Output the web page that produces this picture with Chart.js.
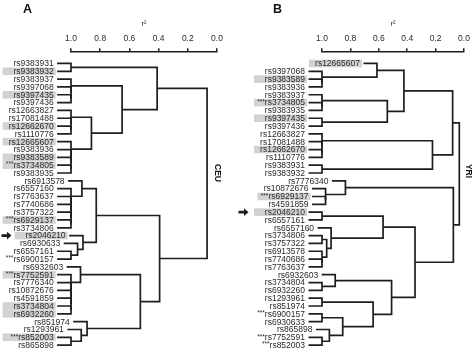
<!DOCTYPE html>
<html>
<head>
<meta charset="utf-8">
<script src="https://cdn.jsdelivr.net/npm/chart.js@4.4.1/dist/chart.umd.min.js"></script>
<style>
  html, body { margin: 0; padding: 0; background: #fff; }
  #wrap { position: relative; width: 474px; height: 350px; }
  .panel { position: absolute; top: 0; width: 237px; height: 350px; }
  #panelA { left: 0; }
  #panelB { left: 237px; }
</style>
</head>
<body>
<div id="wrap">
  <div class="panel" id="panelA"><canvas id="chartA" width="237" height="350"></canvas></div>
  <div class="panel" id="panelB"><canvas id="chartB" width="237" height="350"></canvas></div>
</div>
<script>
const FONT = "'Liberation Sans', Arial, sans-serif";
const INK = "#1e1e1e";

// r2 axis ticks
const rTicks = [1.0, 0.8, 0.6, 0.4, 0.2, 0.0];
// how far a leaf stub hangs past its merge (r2 units)
const leafHang = 0.095;

// snps marked with *** in both panels
const starred = ["rs3734805", "rs6929137", "rs6900157", "rs7752591", "rs852003"];
const arrowSnp = "rs2046210";

// panel A (CEU) leaf order, top to bottom
const leavesA = [
  "rs9383931", "rs9383932", "rs9383937", "rs9397068", "rs9397435", "rs9397436",
  "rs12663827", "rs17081488", "rs12662670", "rs1110776", "rs12665607", "rs9383936",
  "rs9383589", "rs3734805", "rs9383935", "rs6913578", "rs6557160", "rs7763637",
  "rs7740686", "rs3757322", "rs6929137", "rs3734806", "rs2046210", "rs6930633",
  "rs6557161", "rs6900157", "rs6932603", "rs7752591", "rs7776340", "rs10872676",
  "rs4591859", "rs3734804", "rs6932260", "rs851974", "rs1293961", "rs852003", "rs865898"
];
const boxedA = ["rs9383932", "rs9397435", "rs12662670", "rs12665607", "rs9383589", "rs3734805",
  "rs6929137", "rs2046210", "rs7752591", "rs3734804", "rs6932260", "rs852003"];

// merges: [child, child, r2]; numbers are leaves, "m#" is an earlier merge
const mergesA = [
  [0, 1, 1.0],          // m0
  [4, 5, 1.0],          // m1
  [3, "m1", 1.0],       // m2
  [2, "m2", 1.0],       // m3
  [8, 9, 1.0],          // m4
  [7, "m4", 1.0],       // m5
  [6, "m5", 1.0],       // m6
  [13, 14, 1.0],        // m7
  [12, "m7", 1.0],      // m8
  [11, "m8", 1.0],      // m9
  [10, "m9", 1.0],      // m10
  ["m6", "m10", 0.86],  // m11
  ["m3", "m11", 0.65],  // m12
  ["m0", "m12", 0.41],  // m13
  [20, 21, 1.0],        // m14
  [19, "m14", 1.0],     // m15
  [18, "m15", 1.0],     // m16
  [17, "m16", 1.0],     // m17
  [16, "m17", 1.0],     // m18
  [15, "m18", 0.925],   // m19
  [24, 25, 1.0],        // m20
  [23, "m20", 0.955],   // m21
  [22, "m21", 0.918],   // m22
  ["m19", "m22", 0.827],// m23
  [31, 32, 1.0],        // m24
  [30, "m24", 1.0],     // m25
  [29, "m25", 1.0],     // m26
  [28, "m26", 1.0],     // m27
  [27, "m27", 1.0],     // m28
  [26, "m28", 0.935],   // m29
  [35, 36, 1.0],        // m30
  [34, "m30", 0.93],    // m31
  [33, "m31", 0.89],    // m32
  ["m29", "m32", 0.525],// m33
  ["m23", "m33", 0.393],// m34
  ["m13", "m34", 0.068] // m35
];

// panel B (YRI) leaf order, top to bottom
const leavesB = [
  "rs12665607", "rs9397068", "rs9383589", "rs9383936", "rs9383937", "rs3734805",
  "rs9383935", "rs9397435", "rs9397436", "rs12663827", "rs17081488", "rs12662670",
  "rs1110776", "rs9383931", "rs9383932", "rs7776340", "rs10872676", "rs6929137",
  "rs4591859", "rs2046210", "rs6557161", "rs6557160", "rs3734806", "rs3757322",
  "rs6913578", "rs7740686", "rs7763637", "rs6932603", "rs3734804", "rs6932260",
  "rs1293961", "rs851974", "rs6900157", "rs6930633", "rs865898", "rs7752591", "rs852003"
];
const boxedB = ["rs12665607", "rs9383589", "rs3734805", "rs9397435", "rs12662670",
  "rs6929137", "rs2046210"];

const mergesB = [
  [2, 3, 1.0],          // m0
  [1, "m0", 1.0],       // m1
  [0, "m1", 0.613],     // m2
  [5, 6, 1.0],          // m3
  [4, "m3", 1.0],       // m4
  [7, 8, 1.0],          // m5
  ["m4", "m5", 0.54],   // m6
  ["m2", "m6", 0.423],  // m7
  [11, 12, 1.0],        // m8
  [10, "m8", 1.0],      // m9
  [9, "m9", 1.0],       // m10
  [13, 14, 1.0],        // m11
  ["m10", "m11", 0.222],// m12
  ["m7", "m12", 0.08],  // m13
  [17, 18, 0.975],      // m14
  [16, "m14", 0.975],   // m15
  [15, "m15", 0.835],   // m16
  [19, 20, 1.0],        // m17
  [22, 23, 1.0],        // m18
  [25, 26, 1.0],        // m19
  [24, "m19", 1.0],     // m20
  ["m18", "m20", 0.967],// m21
  [21, "m21", 0.936],   // m22
  ["m17", "m22", 0.57], // m23
  [28, 29, 1.0],        // m24
  [27, "m24", 0.907],   // m25
  [30, 31, 1.0],        // m26
  [32, 33, 1.0],        // m27
  [35, 36, 1.0],        // m28
  [34, "m28", 0.948],   // m29
  ["m27", "m29", 0.854],// m30
  ["m26", "m30", 0.64], // m31
  ["m25", "m31", 0.51], // m32
  ["m23", "m32", 0.345],// m33
  ["m16", "m33", 0.075],// m34
  ["m13", "m34", 0.033] // m35
];

// turn merges into elbow polylines (x = r2, y = leaf slot)
function buildTree(merges, nLeaves) {
  const pos = [];
  const hgt = [];
  const leafTop = new Array(nLeaves);
  const segs = [];
  merges.forEach(([a, b, h], k) => {
    const ends = [a, b].map((c) => {
      if (typeof c === "number") {
        leafTop[c] = h;
        return { x: h + leafHang, y: c };
      }
      const j = Number(c.slice(1));
      return { x: hgt[j], y: pos[j] };
    });
    pos[k] = (ends[0].y + ends[1].y) / 2;
    hgt[k] = h;
    segs.push([
      { x: ends[0].x, y: ends[0].y },
      { x: h, y: ends[0].y },
      { x: h, y: ends[1].y },
      { x: ends[1].x, y: ends[1].y },
    ]);
  });
  return { segs, leafTop };
}

function drawArrow(ctx, x0, cy) {
  ctx.beginPath();
  ctx.moveTo(x0, cy - 1.4);
  ctx.lineTo(x0 + 5.5, cy - 1.4);
  ctx.lineTo(x0 + 5.5, cy - 3.8);
  ctx.lineTo(x0 + 10, cy);
  ctx.lineTo(x0 + 5.5, cy + 3.8);
  ctx.lineTo(x0 + 5.5, cy + 1.4);
  ctx.lineTo(x0, cy + 1.4);
  ctx.closePath();
  ctx.fill();
}

function labelsPlugin(leaves, leafTop, boxed, letter, letterX, pop, popX, popY) {
  return {
    id: "leafLabels",
    afterDatasetsDraw(chart) {
      const { ctx, scales: { x, y } } = chart;
      ctx.save();
      ctx.textBaseline = "middle";
      ctx.textAlign = "right";
      leaves.forEach((name, i) => {
        const py = y.getPixelForValue(i);
        const stub = x.getPixelForValue(leafTop[i] + leafHang);
        const right = stub - 3.5;
        ctx.font = "8.5px " + FONT;
        const w = ctx.measureText(name).width;
        const star = starred.includes(name);
        ctx.font = "6.5px " + FONT;
        const sw = star ? ctx.measureText("***").width : 0;
        if (boxed.includes(name)) {
          const br = stub - 1.5;
          const bl = Math.min(br - 53, right - w - sw - 2);
          ctx.fillStyle = "#d2d2d2";
          ctx.fillRect(bl, py - 3.8, br - bl, 7.6);
        }
        ctx.fillStyle = "#2a2a2a";
        ctx.font = "8.5px " + FONT;
        ctx.fillText(name, right, py + 0.5);
        if (star) {
          ctx.font = "6.5px " + FONT;
          ctx.fillText("***", right - w, py - 0.5);
        }
        if (name === arrowSnp) {
          ctx.fillStyle = INK;
          drawArrow(ctx, 1.5, py);
        }
      });
      // panel letter
      ctx.fillStyle = "#111";
      ctx.textAlign = "left";
      ctx.textBaseline = "alphabetic";
      ctx.font = "bold 12.5px " + FONT;
      ctx.fillText(letter, letterX, 12.7);
      // population label
      ctx.translate(popX, popY);
      ctx.rotate(Math.PI / 2);
      ctx.textAlign = "center";
      ctx.textBaseline = "middle";
      ctx.font = "bold 8.5px " + FONT;
      ctx.fillText(pop, 0, 0);
      ctx.restore();
    },
  };
}

function drawPanel(id, leaves, merges, boxed, padLeft, padRight, letter, letterX, pop, popX, popY) {
  const tree = buildTree(merges, leaves.length);
  const datasets = tree.segs.map((seg) => ({
    data: seg,
    showLine: true,
    borderColor: INK,
    borderWidth: 1.7,
    borderJoinStyle: "miter",
    pointRadius: 0,
    fill: false,
    tension: 0,
    clip: false,
  }));
  new Chart(document.getElementById(id), {
    type: "scatter",
    data: { datasets },
    options: {
      responsive: false,
      animation: false,
      events: [],
      layout: { padding: { left: padLeft, right: padRight, top: 17, bottom: 4 } },
      plugins: { legend: { display: false }, tooltip: { enabled: false } },
      scales: {
        x: {
          type: "linear",
          position: "top",
          reverse: true,
          min: 0,
          max: 1,
          afterBuildTicks: (s) => {
            s.ticks = rTicks.map((v) => ({ value: v }));
          },
          ticks: {
            callback: (v) => v.toFixed(1),
            font: { size: 8.5, family: FONT },
            color: "#2a2a2a",
            padding: 4,
            maxRotation: 0,
            autoSkip: false,
          },
          grid: { drawOnChartArea: false, drawTicks: true, tickLength: 4, color: INK, lineWidth: 1.5 },
          border: { display: true, color: INK, width: 1.5 },
          title: {
            display: true,
            text: "r²",
            font: { size: 7.5, family: FONT },
            color: "#2a2a2a",
            padding: { top: 2, bottom: 2 },
          },
        },
        y: {
          type: "linear",
          display: false,
          reverse: true,
          min: -1.44,
          max: 36.11,
        },
      },
    },
    plugins: [labelsPlugin(leaves, tree.leafTop, boxed, letter, letterX, pop, popX, popY)],
  });
}

drawPanel("chartA", leavesA, mergesA, boxedA, 71, 20, "A", 23, "CEU", 217, 173);
drawPanel("chartB", leavesB, mergesB, boxedB, 85, 10, "B", 36, "YRI", 231.5, 171);
</script>
</body>
</html>
